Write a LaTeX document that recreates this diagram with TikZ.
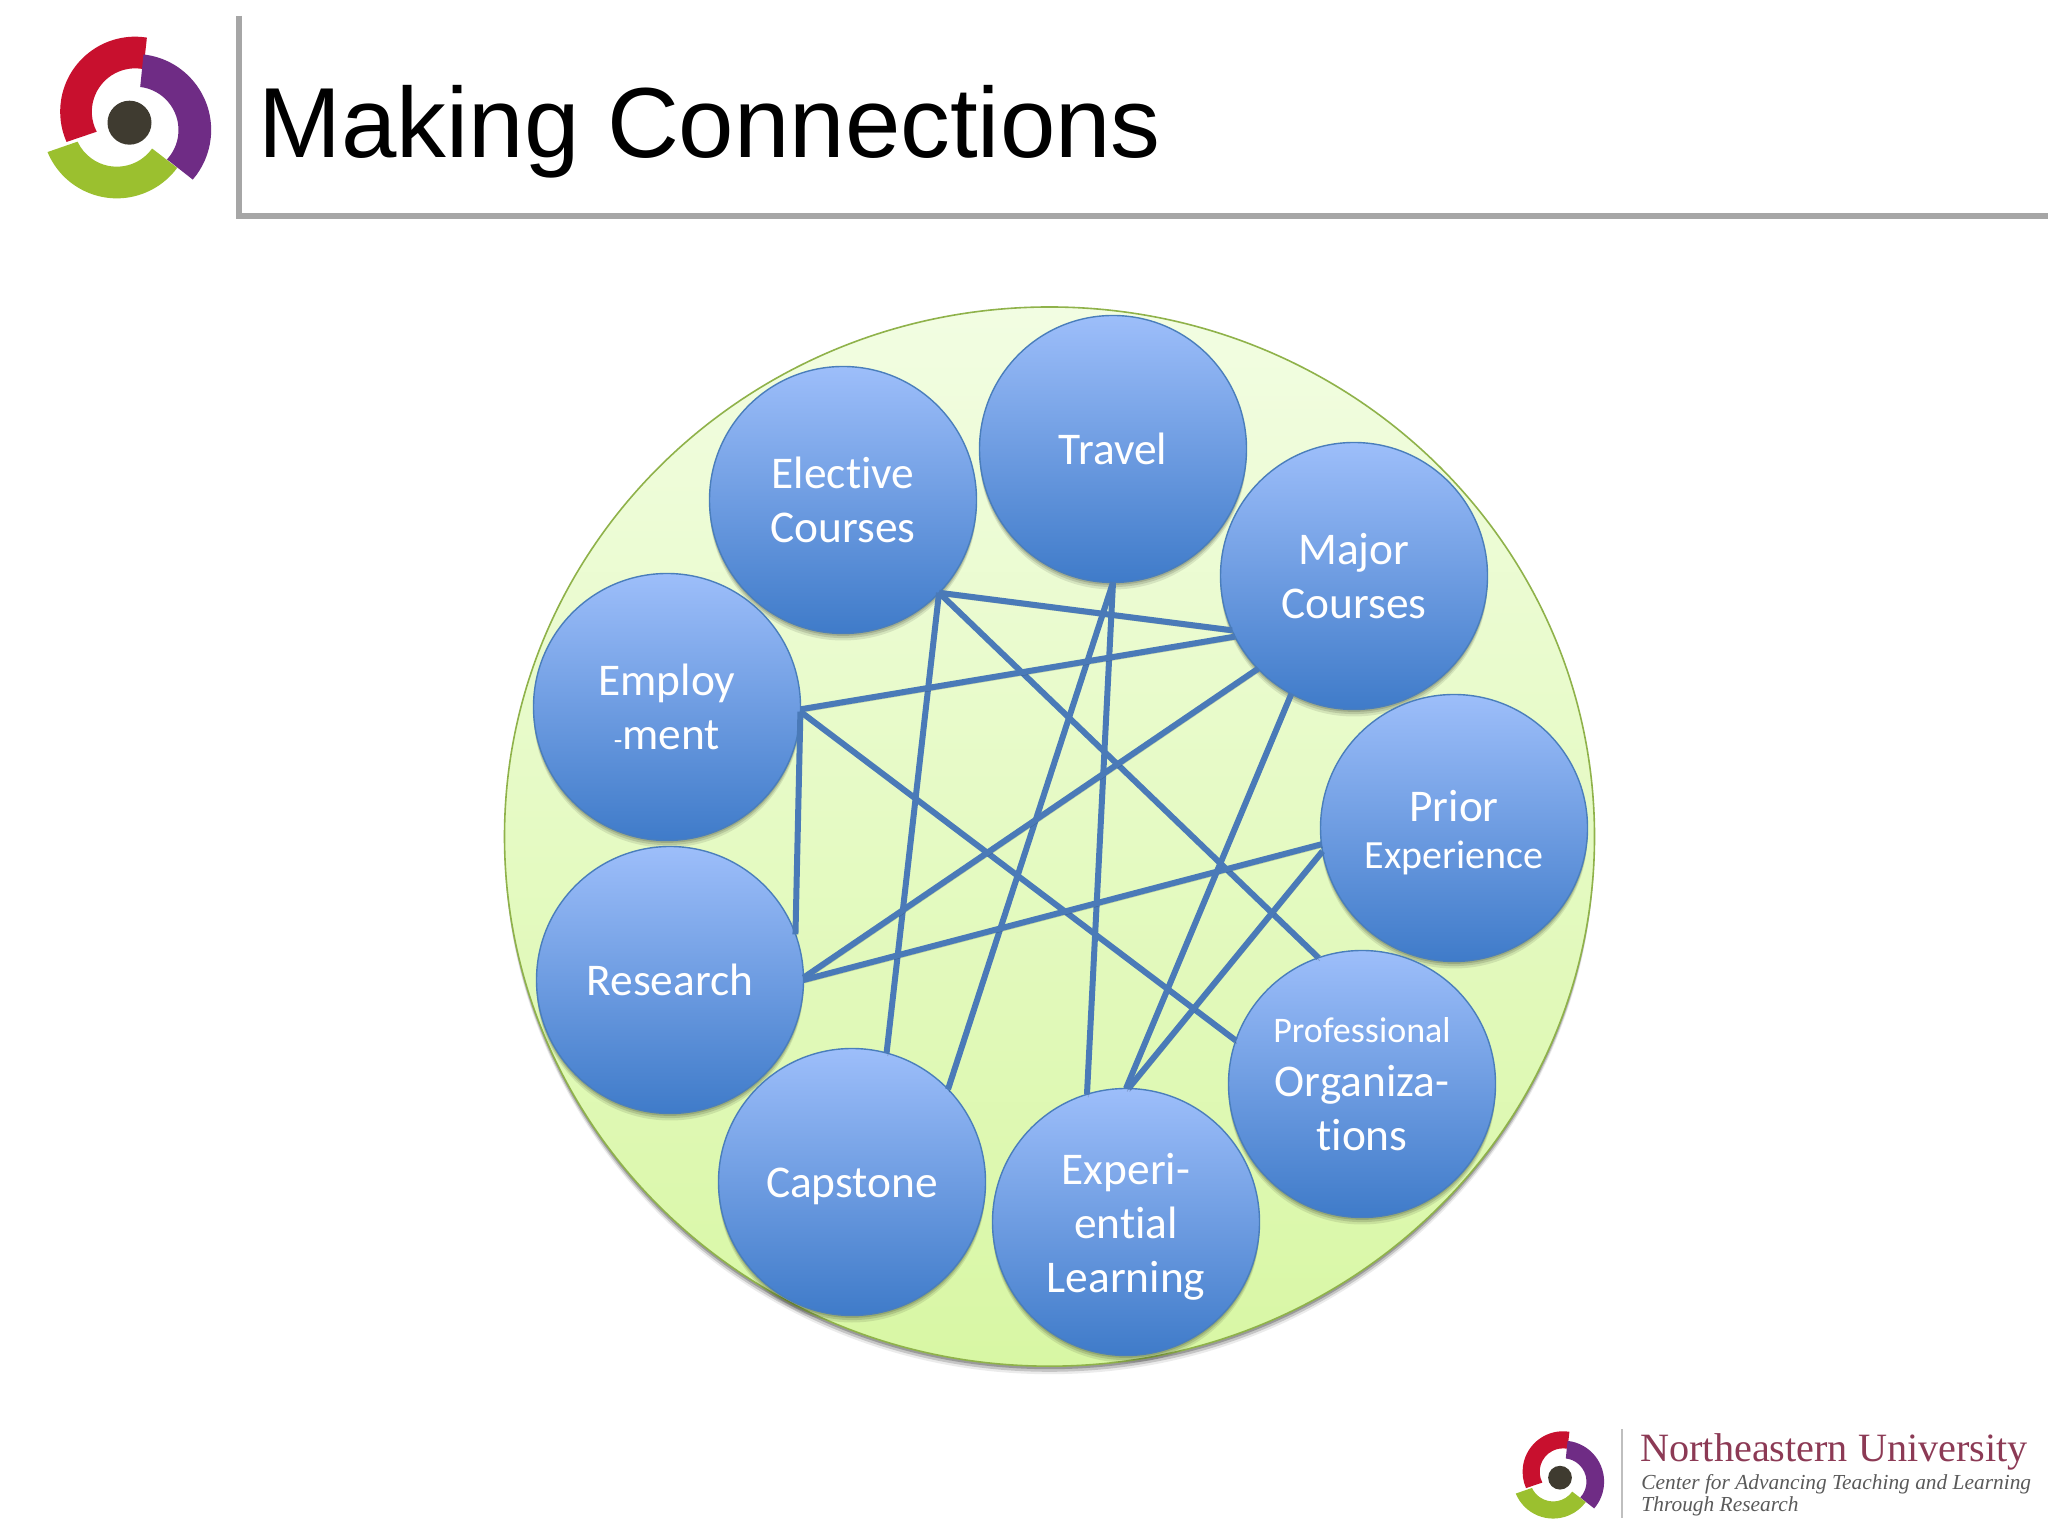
\documentclass[tikz,border=0pt]{standalone}
\usepackage{fontspec}
\setmainfont{Liberation Sans}
\newfontfamily\nodefont[Ligatures=CommonOff]{Carlito}
\newfontfamily\nuserif{Liberation Serif}
\usetikzlibrary{shadows,shapes.geometric}
\definecolor{ruleGray}{HTML}{A6A6A6}
\definecolor{bubbleTop}{HTML}{9DBEFA}
\definecolor{bubbleBot}{HTML}{3F7BC9}
\definecolor{bubbleEdge}{HTML}{4A7EBB}
\definecolor{connBlue}{HTML}{4A7AB8}
\definecolor{bigTop}{HTML}{F2FDE2}
\definecolor{bigBot}{HTML}{D8F7A4}
\definecolor{bigEdge}{HTML}{8FB24A}
\definecolor{logoRed}{HTML}{C8102E}
\definecolor{logoPurple}{HTML}{6F2C85}
\definecolor{logoGreen}{HTML}{9BC02F}
\definecolor{logoDot}{HTML}{3F3B30}
\definecolor{nuRed}{HTML}{8C3A55}
\definecolor{nuGray}{HTML}{5A5A5A}
\newcommand{\nudge}[2]{\raisebox{#1}[\height][\depth]{#2}}
\newcommand{\nulogo}{%
  \begin{scope}[shift={(17,33)}]
    \fill[logoRed] (81:225) arc[start angle=81,end angle=203.8,radius=225] -- (207.5:130) arc[start angle=207.5,end angle=79,radius=130] -- cycle;
  \end{scope}
  \begin{scope}[shift={(17,-22)}]
    \fill[logoPurple] (83.7:228) arc[start angle=83.7,end angle=-40.7,radius=228] -- (-42.7:130) arc[start angle=-42.7,end angle=83.3,radius=130] -- cycle;
  \end{scope}
  \begin{scope}[shift={(-38,-2)}]
    \fill[logoGreen] (202.5:225) arc[start angle=202.5,end angle=323.6,radius=225] -- (324.5:130) arc[start angle=324.5,end angle=205,radius=130] -- cycle;
  \end{scope}
  \fill[logoDot] (0,0) circle[radius=66];
}
\tikzset{
  x=0.5pt,y=0.5pt,
  bubble/.style={circle,draw=bubbleEdge,line width=0.7pt,top color=bubbleTop,bottom color=bubbleBot,
    minimum size=133.5pt,inner sep=0pt,outer sep=0pt,text=white,align=center,
    font=\nodefont\fontsize{22.7}{27}\selectfont,
    general shadow={fill=black,opacity=.09,shadow yshift=-3.5pt,shadow scale=1.0},
    general shadow={fill=black,opacity=.12,shadow yshift=-2.3pt,shadow scale=1.0},
    general shadow={fill=black,opacity=.14,shadow yshift=-1.2pt,shadow scale=1.0}},
  bigdisc/.style={ellipse,draw=bigEdge,line width=0.8pt,top color=bigTop,bottom color=bigBot,
    minimum width=545pt,minimum height=529.6pt,inner sep=0pt,outer sep=0pt,
    general shadow={fill=black,opacity=.08,shadow yshift=-4pt,shadow scale=1.0},
    general shadow={fill=black,opacity=.16,shadow yshift=-2.8pt,shadow scale=1.0},
    general shadow={fill=black,opacity=.22,shadow yshift=-1.5pt,shadow scale=1.0}},
  conn/.style={draw=connBlue,line width=3pt,
    preaction={draw=black,opacity=.16,transform canvas={xshift=.6pt,yshift=-1.5pt}}},
  rulehead/.style={draw=ruleGray,line width=2.6pt},
  title/.style={anchor=base west,inner sep=0pt,font=\fontsize{49.8}{60}\selectfont,text=black},
  nutitle/.style={anchor=base west,inner sep=0pt,text=nuRed,font=\nuserif\fontsize{20.1}{22}\selectfont},
  nusub/.style={anchor=base west,inner sep=0pt,text=nuGray,font=\nuserif\itshape\fontsize{10.7}{13}\selectfont},
}
\begin{document}
\begin{tikzpicture}
\useasboundingbox (0,0) rectangle (2048,1536);
\fill[white] (0,0) rectangle (2048,1536);

% header
\coordinate (ruleTop) at (239,1520);
\coordinate (ruleCorner) at (239,1320);
\coordinate (ruleEnd) at (2048,1320);
\draw[rulehead,line join=miter] (ruleTop) -- (ruleCorner) -- (ruleEnd);
\node[title] (heading) at (258,1378) {Making Connections};
\begin{scope}[shift={(129.5,1413.3)},scale=1/3]
  \nulogo
\end{scope}

% big disc and bubbles
\node[bigdisc] (disc) at (1049.5,699.4) {};
\node[bubble] (travel) at (1113,1087) {Travel};
\node[bubble] (elective) at (843,1036) {Elective\\Courses};
\node[bubble] (major) at (1354,960) {Major\\Courses};
\node[bubble] (employ) at (667,829) {Employ\\{\fontsize{14}{27}\selectfont -}ment};
\node[bubble] (prior) at (1454,708) {\nudge{-4pt}{Prior}\\\nudge{-.7pt}{\fontsize{20}{27}\selectfont Experience}};
\node[bubble] (research) at (670,556) {Research};
\node[bubble] (prof) at (1362,452) {{\fontsize{18}{27}\selectfont Professional}\\Organiza-\\tions};
\node[bubble] (capstone) at (852,354) {\nudge{-2pt}{Capstone}};
\node[bubble] (exper) at (1126,314) {\nudge{-2.6pt}{Experi-}\\\nudge{-2.6pt}{ential}\\\nudge{-2.6pt}{Learning}};

% connectors
\draw[conn] (elective.-44) -- (major.-156);
\draw[conn] (elective.-44) -- (capstone.75.7);
\draw[conn] (elective.-44) -- (prof.109);
\draw[conn] (travel.-90) -- (capstone.44.7);
\draw[conn] (travel.-90) -- (exper.107.5);
\draw[conn] (employ.-1) -- (major.-153.2);
\draw[conn] (employ.-2) -- (prof.161.3);
\draw[conn] (employ.-2) -- (research.20.4);
\draw[conn] (research.1.7) -- (major.-136.8);
\draw[conn] (research.0.8) -- (prior.-173);
\draw[conn] (major.-118.8) -- (exper.90);
\draw[conn] (prior.-170.6) -- (exper.89);

% footer logo
\begin{scope}[shift={(1560,58.3)},scale=0.18]
  \nulogo
\end{scope}
\coordinate (footA) at (1622,107);
\coordinate (footB) at (1622,18);
\draw[gray!50,line width=.6pt] (footA) -- (footB);
\node[nutitle] (nuname) at (1640,75) {Northeastern University};
\node[nusub] (nusubA) at (1641,47) {Center for Advancing Teaching and Learning};
\node[nusub] (nusubB) at (1641,25) {Through Research};
\end{tikzpicture}
\end{document}
